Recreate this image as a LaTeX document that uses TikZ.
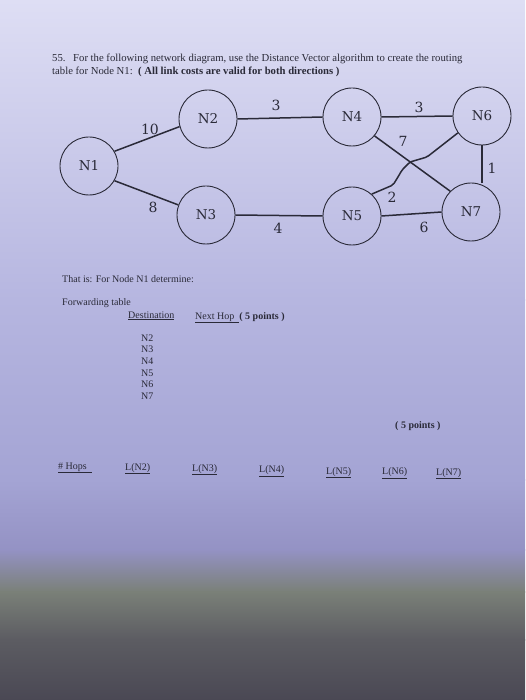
\documentclass[tikz,border=0pt]{standalone}
\usepackage{fontspec}
\setmainfont{Liberation Serif}
\newfontfamily\netfont{DejaVu Serif}
\usetikzlibrary{calc}
\definecolor{bgA}{HTML}{DEDEF4}
\definecolor{bgB}{HTML}{B6B6E0}
\definecolor{bgC}{HTML}{A4A4D4}
\definecolor{bgD}{HTML}{9492C4}
\definecolor{bgE}{HTML}{7A8078}
\definecolor{bgF}{HTML}{5C5C62}
\definecolor{bgG}{HTML}{4A4854}
\definecolor{ink}{HTML}{2A2A38}
\begin{document}
\begin{tikzpicture}[x=1pt,y=-1pt,
  netnode/.style={draw=ink,line width=0.9pt,circle,minimum size=58pt,inner sep=0pt,font=\netfont\fontsize{13.5}{15}\selectfont,text=ink},
  link/.style={draw=ink,line width=1.5pt},
  cost/.style={font=\netfont\fontsize{14}{16}\selectfont,text=ink,inner sep=0pt},
  txt/.style={anchor=base west,inner sep=0pt,font=\fontsize{10}{11.6}\selectfont,text=ink},
  ttl/.style={anchor=base west,inner sep=0pt,font=\fontsize{10.7}{12.5}\selectfont,text=ink}]
\useasboundingbox (0,0) rectangle (525,700);
% background (photo of paper)
\shade[top color=bgA,bottom color=bgB] (0,0) rectangle (525,300);
\shade[top color=bgB,bottom color=bgC] (0,299.5) rectangle (525,480);
\shade[top color=bgC,bottom color=bgD] (0,479.5) rectangle (525,550);
\shade[top color=bgD,bottom color=bgE] (0,549.5) rectangle (525,592);
\shade[top color=bgE,bottom color=bgF] (0,591.5) rectangle (525,640);
\shade[top color=bgF,bottom color=bgG] (0,639.5) rectangle (525,700);
% title
\node[ttl] (q) at (52,62) {55.};
\node[ttl] (t1) at (73,62) {For the following network diagram, use the Distance Vector algorithm to create the routing};
\node[ttl] (t2) at (52,75) {table for Node N1:\ \ \textbf{( All link costs are valid for both directions )}};
% network
\node[netnode] (N1) at (89,166) {N1};
\node[netnode] (N2) at (208,119) {N2};
\node[netnode] (N3) at (206,215) {N3};
\node[netnode] (N4) at (352,117) {N4};
\node[netnode] (N5) at (352,216) {N5};
\node[netnode] (N6) at (482,116) {N6};
\node[netnode] (N7) at (471,212) {N7};
\draw[link] (N1.30) -- (N2.195);
\draw[link] (N1.-30) -- (N3.160);
\draw[link] (N2.east) -- (N4.west);
\draw[link] (N3.east) -- (N5.west);
\draw[link] (N4.east) -- (N6.west);
\draw[link] (N4.-40) -- (N7.135);
\draw[link] (N5.east) -- (N7.west);
\draw[link] (N6.south) -- (N7.north -| N6.south);
\draw[link,rounded corners=2pt] (N5.48) -- (393,185) -- (398,177) -- (402,170) -- (410,162) -- (427,157) -- (N6.215);
\node[cost] (c1) at (150,129) {10};
\node[cost] (c2) at (153,207) {8};
\node[cost] (c3) at (276,105) {3};
\node[cost] (c4) at (278,228) {4};
\node[cost] (c5) at (419,107) {3};
\node[cost] (c6) at (403,141) {7};
\node[cost] (c7) at (392,197) {2};
\node[cost] (c8) at (492,168) {1};
\node[cost] (c9) at (424,227) {6};
% lower text
\node[txt] (t3) at (62,282) {That is: For Node N1 determine:};
\node[txt] (t4) at (62,305) {Forwarding table};
\node[txt] (t5) at (128,318) {\underline{Destination}};
\node[txt] (t6) at (195,319) {\underline{Next Hop\ \ }\textbf{( 5 points )}};
\node[txt] (d2) at (141,341) {N2};
\node[txt] (d3) at (141,352.7) {N3};
\node[txt] (d4) at (141,364.4) {N4};
\node[txt] (d5) at (141,376.1) {N5};
\node[txt] (d6) at (141,387.8) {N6};
\node[txt] (d7) at (141,399.5) {N7};
\node[txt] (t8) at (395,428) {\textbf{( 5 points )}};
\node[txt] (h0) at (58,469) {\underline{\# Hops\ \ }};
\node[txt] (h2) at (125,470) {\underline{L(N2)}};
\node[txt] (h3) at (192,471) {\underline{L(N3)}};
\node[txt] (h4) at (259,472.5) {\underline{L(N4)}};
\node[txt] (h5) at (326,474) {\underline{L(N5)}};
\node[txt] (h6) at (382,474.5) {\underline{L(N6)}};
\node[txt] (h7) at (436,475) {\underline{L(N7)}};
\end{tikzpicture}
\end{document}
